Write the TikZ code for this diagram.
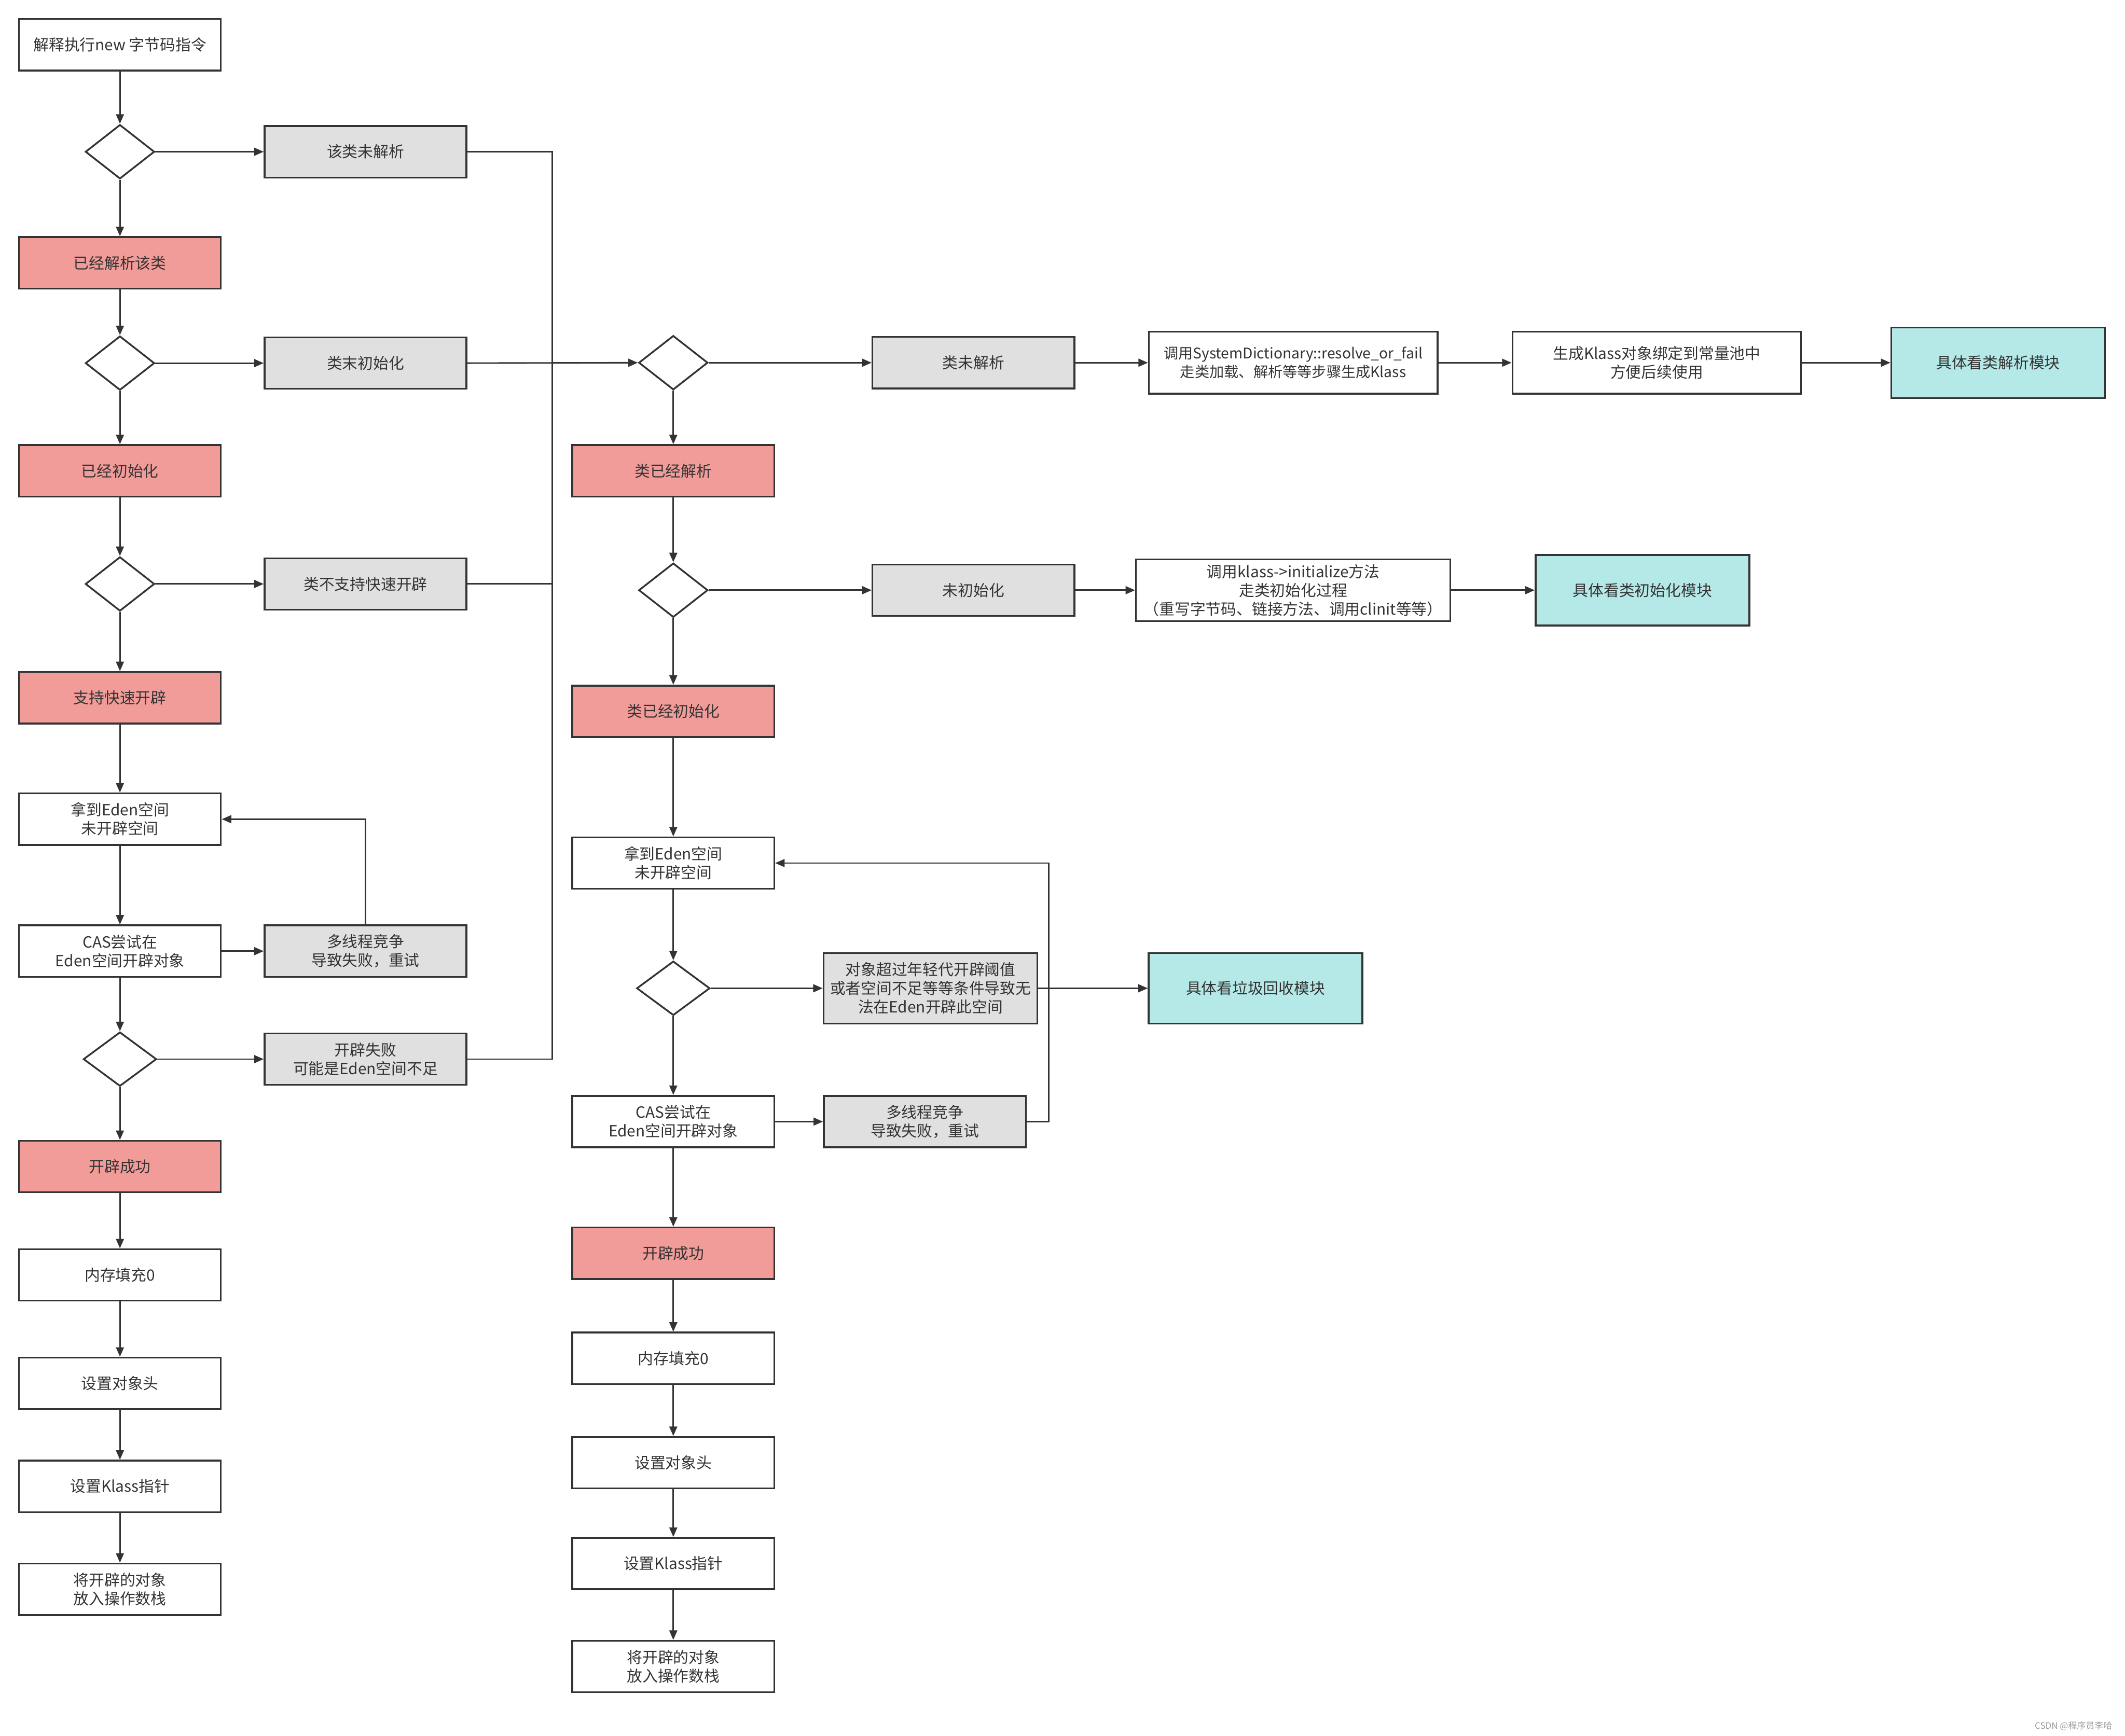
\documentclass[tikz,border=0pt]{standalone}
\usepackage{fontspec}
\setmainfont{Noto Sans CJK SC}
\usetikzlibrary{shapes.geometric,arrows.meta}
\definecolor{lc}{HTML}{333333}
\definecolor{redf}{HTML}{F19C99}
\definecolor{grayf}{HTML}{E0E0E0}
\definecolor{cyanf}{HTML}{B5E9E8}
\newcommand\mfs{\fontsize{11.4}{13.8}\selectfont}
\tikzset{
  box/.style={draw=lc, line width=1.3pt, minimum width=149pt, minimum height=38pt, inner sep=1pt, align=center, text=lc, font=\mfs, fill=white},
  redbox/.style={box, fill=redf},
  graybox/.style={box, fill=grayf},
  cyanbox/.style={box, fill=cyanf, minimum width=157.7pt, minimum height=52pt},
  dia/.style={draw=lc, line width=1.3pt, shape=diamond, minimum width=51pt, minimum height=40pt, inner sep=0pt, fill=white},
  arr/.style={draw=lc, line width=1.1pt, -{Triangle[length=7pt,width=5.8pt]}},
  ln/.style={draw=lc, line width=1.1pt},
}
\begin{document}
\begin{tikzpicture}[x=1pt,y=-1pt]
\useasboundingbox (0,0) rectangle (1568,1281);
% left column
\node[box] (start) at (88.5,33) {解释执行new 字节码指令};
\node[dia] (d1) at (88.5,112) {};
\node[graybox] (g1) at (269.7,112) {该类未解析};
\node[redbox] (r1) at (88.5,194) {已经解析该类};
\node[dia] (d2) at (88.5,268) {};
\node[graybox] (g2) at (269.7,268) {类末初始化};
\node[redbox] (r2) at (88.5,347.5) {已经初始化};
\node[dia] (d3) at (88.5,431) {};
\node[graybox] (g3) at (269.7,431) {类不支持快速开辟};
\node[redbox] (r3) at (88.5,515) {支持快速开辟};
\node[box] (e1) at (88.5,604.6) {拿到Eden空间\\未开辟空间};
\node[box] (c1) at (88.5,702) {CAS尝试在\\Eden空间开辟对象};
\node[graybox] (m1) at (269.7,702) {多线程竞争\\导致失败，重试};
\node[dia, minimum width=54pt] (d4) at (88.5,781.7) {};
\node[graybox] (f1) at (269.7,781.7) {开辟失败\\可能是Eden空间不足};
\node[redbox] (s1) at (88.5,861) {开辟成功};
\node[box] (z1) at (88.5,941) {内存填充0};
\node[box] (h1) at (88.5,1021) {设置对象头};
\node[box] (k1) at (88.5,1097) {设置Klass指针};
\node[box] (p1) at (88.5,1173) {将开辟的对象\\放入操作数栈};
% middle column
\node[dia] (d5) at (496.8,267.7) {};
\node[graybox] (u1) at (718.3,267.7) {类未解析};
\node[box, minimum width=213pt, minimum height=45.7pt, font=\fontsize{10.8}{13.8}\selectfont] (sd) at (954.2,267.7) {调用SystemDictionary::resolve\_or\_fail\\走类加载、解析等等步骤生成Klass};
\node[box, minimum width=213pt, minimum height=45.7pt] (gk) at (1222.5,267.7) {生成Klass对象绑定到常量池中\\方便后续使用};
\node[cyanbox] (cy1) at (1474.4,267.7) {具体看类解析模块};
\node[redbox] (r4) at (496.8,347.5) {类已经解析};
\node[dia] (d6) at (496.8,435.6) {};
\node[graybox] (u2) at (718.3,435.6) {未初始化};
\node[box, minimum width=232pt, minimum height=45.7pt] (ki) at (954.2,435.6) {调用klass->initialize方法\\走类初始化过程\\（重写字节码、链接方法、调用clinit等等）};
\node[cyanbox] (cy2) at (1211.9,435.6) {具体看类初始化模块};
\node[redbox] (r5) at (496.8,525) {类已经初始化};
\node[box] (e2) at (496.8,637) {拿到Eden空间\\未开辟空间};
\node[dia, minimum width=54pt] (d7) at (496.8,729.4) {};
\node[graybox, minimum width=157.8pt, minimum height=52pt] (ob) at (686.6,729.4) {对象超过年轻代开辟阈值\\或者空间不足等等条件导致无\\法在Eden开辟此空间};
\node[cyanbox] (cy3) at (926.4,729.4) {具体看垃圾回收模块};
\node[box] (c2) at (496.8,827.8) {CAS尝试在\\Eden空间开辟对象};
\node[graybox] (m2) at (682.4,827.8) {多线程竞争\\导致失败，重试};
\node[redbox] (s2) at (496.8,925) {开辟成功};
\node[box] (z2) at (496.8,1002.5) {内存填充0};
\node[box] (h2) at (496.8,1079.5) {设置对象头};
\node[box] (k2) at (496.8,1154) {设置Klass指针};
\node[box] (p2) at (496.8,1230) {将开辟的对象\\放入操作数栈};
\coordinate (bus) at (407.5,0);
\coordinate (loop) at (773.7,0);
% left connectors
\draw[arr] (start) -- (d1);
\draw[arr] (d1) -- (g1);
\draw[arr] (d1) -- (r1);
\draw[arr] (r1) -- (d2);
\draw[arr] (d2) -- (g2);
\draw[arr] (d2) -- (r2);
\draw[arr] (r2) -- (d3);
\draw[arr] (d3) -- (g3);
\draw[arr] (d3) -- (r3);
\draw[arr] (r3) -- (e1);
\draw[arr] (e1) -- (c1);
\draw[arr] (c1) -- (m1);
\draw[arr] (m1.north) |- (e1.east);
\draw[arr] (c1) -- (d4);
\draw[arr] (d4) -- (f1);
\draw[arr] (d4) -- (s1);
\draw[arr] (s1) -- (z1);
\draw[arr] (z1) -- (h1);
\draw[arr] (h1) -- (k1);
\draw[arr] (k1) -- (p1);
% bus
\draw[ln] (g1.east) -| (bus |- f1.east) -- (f1.east);
\draw[ln] (g3.east) -- (bus |- g3.east);
\draw[arr] (g2.east) -- (d5.west);
% middle connectors
\draw[arr] (d5) -- (u1);
\draw[arr] (u1) -- (sd);
\draw[arr] (sd) -- (gk);
\draw[arr] (gk) -- (cy1);
\draw[arr] (d5) -- (r4);
\draw[arr] (r4) -- (d6);
\draw[arr] (d6) -- (u2);
\draw[arr] (u2) -- (ki);
\draw[arr] (ki) -- (cy2);
\draw[arr] (d6) -- (r5);
\draw[arr] (r5) -- (e2);
\draw[arr] (e2) -- (d7);
\draw[arr] (d7) -- (ob);
\draw[arr] (ob) -- (cy3);
\draw[arr] (d7) -- (c2);
\draw[arr] (c2) -- (m2);
\draw[arr] (m2.east) -| (loop |- e2.east) -- (e2.east);
\draw[arr] (c2) -- (s2);
\draw[arr] (s2) -- (z2);
\draw[arr] (z2) -- (h2);
\draw[arr] (h2) -- (k2);
\draw[arr] (k2) -- (p2);
% watermark
\node[text=black!40, font=\fontsize{6.5}{8}\selectfont, inner sep=0pt] (wm) at (1530,1274) {CSDN @程序员李哈};
\end{tikzpicture}
\end{document}
